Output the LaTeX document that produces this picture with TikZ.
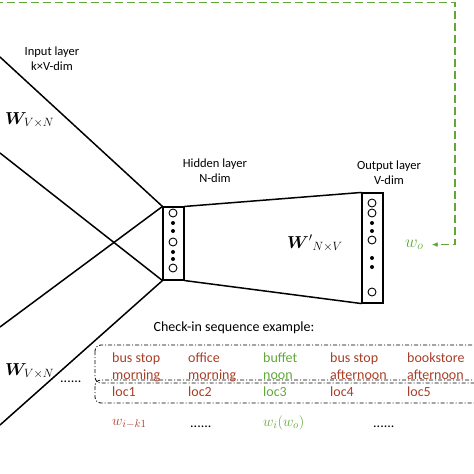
\documentclass[tikz,border=0pt]{standalone}
\usepackage{fontspec}
\setmainfont{Carlito}
\usepackage{amsmath}
\usepackage{bm}
\usetikzlibrary{arrows.meta}

\definecolor{locred}{RGB}{168,62,38}
\definecolor{tgtgreen}{RGB}{96,168,56}

\begin{document}
\begin{tikzpicture}[
    x=1pt, y=-1pt,
    layer/.style={draw, line width=1.1pt, inner sep=0pt, minimum width=21pt},
    neuron/.style={draw, circle, line width=0.9pt, inner sep=0pt, minimum size=8pt},
    blob/.style={fill, circle, inner sep=0pt, minimum size=4pt},
    laytext/.style={align=center, font=\fontsize{12.5}{15}\selectfont},
    weight/.style={anchor=base west, inner sep=0pt, font=\fontsize{18}{20}\selectfont},
    cell/.style={anchor=base west, inner sep=0pt, font=\fontsize{14}{17}\selectfont},
    conn/.style={line width=1.5pt},
    seqbox/.style={line width=0.8pt, rounded corners=6pt, dash pattern=on 4pt off 2pt on 1pt off 2pt},
    feedback/.style={tgtgreen, line width=1.3pt, dash pattern=on 8pt off 4pt, -{Latex[length=6pt,width=5pt]}}
  ]
  \clip (0,0) rectangle (474,474);

  % layers
  \node[layer, minimum height=73pt] (hid) at (173.5,243.5) {};
  \node[layer, minimum height=110pt] (out) at (372.5,248) {};
  \foreach \y [count=\i] in {213,242,268}
    \node[neuron] (h\i) at (173,\y) {};
  \foreach \y [count=\i] in {223,231,252,259}
    \node[blob] (hd\i) at (173,\y) {};
  \foreach \y [count=\i] in {203,213,240,292}
    \node[neuron] (o\i) at (372,\y) {};
  \foreach \y [count=\i] in {223,231,258,267}
    \node[blob] (od\i) at (372,\y) {};

  % inputs (cut at the left edge)
  \coordinate (ina) at (0,57);
  \coordinate (inb) at (0,153);
  \coordinate (inc) at (0,327);
  \coordinate (ind) at (0,425);
  \draw[conn] (ina) -- (hid.north west);
  \draw[conn] (inb) -- (hid.south west);
  \draw[conn] (inc) -- (hid.north west);
  \draw[conn] (ind) -- (hid.south west);
  \draw[conn] (hid.north east) -- (out.north west);
  \draw[conn] (hid.south east) -- (out.south west);

  \node[laytext] (inlab) at (52,59) {Input layer\\k×V-dim};
  \node[laytext] (hidlab) at (215,171) {Hidden layer\\N-dim};
  \node[laytext] (outlab) at (389,173) {Output layer\\V-dim};

  \node[weight] (wa) at (5,124) {$\bm{W}_{V\times N}$};
  \node[weight] (wb) at (5,375) {$\bm{W}_{V\times N}$};
  \node[weight] (wc) at (287,248) {${\bm{W}'}_{N\times V}$};
  \node[cell] (skip) at (60,382) {......};

  % target word fed back
  \node[cell, text=tgtgreen, font=\fontsize{17}{19}\selectfont] (wo) at (405,247) {$w_o$};
  \coordinate (fbstart) at (-5,2.5);
  \coordinate (fbturn) at (455,2.5);
  \draw[feedback] (fbstart) -- (fbturn) |- ([xshift=8pt]wo.east);

  % check-in sequence
  \node[font=\fontsize{14}{17}\selectfont] (seqlab) at (234,328) {Check-in sequence example:};
  \draw[seqbox] (95,345) rectangle (500,383);
  \draw[seqbox] (95,380) rectangle (500,403);
  \foreach \x/\ta/\tb/\lc/\col [count=\i] in {
      112/bus stop/morning/loc1/locred,
      188/office/morning/loc2/locred,
      263/buffet/noon/loc3/tgtgreen,
      330/bus stop/afternoon/loc4/locred,
      407/bookstore/afternoon/loc5/locred}
  {
    \node[cell, text=\col] (s\i) at (\x,362) {\ta};
    \node[cell, text=\col] (t\i) at (\x,379) {\tb};
    \node[cell, text=\col] (l\i) at (\x,396) {\lc};
  }
  \node[cell, text=locred, font=\fontsize{15}{17}\selectfont] (wik) at (112,425) {$w_{i-k1}$};
  \node[cell] (gapa) at (190,427) {......};
  \node[cell, text=tgtgreen, font=\fontsize{15}{17}\selectfont] (wi) at (263,426) {$w_i(w_o)$};
  \node[cell] (gapb) at (373,427) {......};
\end{tikzpicture}
\end{document}
